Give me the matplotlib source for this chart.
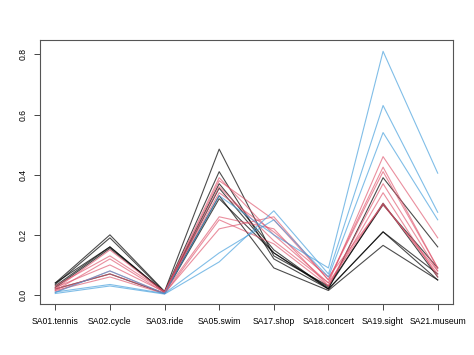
import matplotlib
matplotlib.use("Agg")
import matplotlib.pyplot as plt

plt.rcParams['font.family'] = ['Liberation Sans', 'DejaVu Sans']

categories = ["SA01.tennis", "SA02.cycle", "SA03.ride", "SA05.swim",
              "SA17.shop", "SA18.concert", "SA19.sight", "SA21.museum"]

blue_series = [
    [0.010, 0.035, 0.005, 0.330, 0.200, 0.090, 0.810, 0.405],
    [0.005, 0.030, 0.003, 0.110, 0.280, 0.070, 0.630, 0.275],
    [0.008, 0.080, 0.005, 0.140, 0.250, 0.060, 0.540, 0.250],
]
red_series = [
    [0.020, 0.150, 0.010, 0.390, 0.200, 0.040, 0.460, 0.190],
    [0.015, 0.120, 0.008, 0.380, 0.250, 0.050, 0.425, 0.090],
    [0.025, 0.100, 0.010, 0.260, 0.220, 0.030, 0.370, 0.080],
    [0.010, 0.080, 0.005, 0.360, 0.180, 0.040, 0.305, 0.070],
    [0.020, 0.070, 0.006, 0.220, 0.260, 0.050, 0.410, 0.090],
    [0.015, 0.060, 0.004, 0.250, 0.170, 0.030, 0.340, 0.060],
    [0.030, 0.130, 0.012, 0.340, 0.210, 0.060, 0.300, 0.080],
]
black_series = [
    [0.040, 0.200, 0.012, 0.485, 0.130, 0.030, 0.300, 0.090],
    [0.035, 0.190, 0.010, 0.410, 0.120, 0.020, 0.390, 0.160],
    [0.040, 0.160, 0.010, 0.370, 0.150, 0.020, 0.210, 0.070],
    [0.030, 0.160, 0.008, 0.330, 0.090, 0.015, 0.165, 0.050],
    [0.025, 0.155, 0.010, 0.355, 0.140, 0.025, 0.305, 0.060],
    [0.020, 0.070, 0.005, 0.320, 0.140, 0.020, 0.210, 0.050],
]
yticks = [0.0, 0.2, 0.4, 0.6, 0.8]

fig = plt.figure(figsize=(4.74, 3.55), dpi=100)
ax = fig.add_axes([40/474, 1-304/355, 413/474, 264/355])
x = list(range(1, len(categories)+1))

for s in black_series:
    ax.plot(x, s, color="black", lw=0.8, alpha=0.7)
for s in red_series:
    ax.plot(x, s, color="#DF536B", lw=0.8, alpha=0.65)
for s in blue_series:
    ax.plot(x, s, color="#3D9BDB", lw=0.8, alpha=0.65)

ax.set_xlim(0.72, 8.28)
ax.set_ylim(-0.0299, 0.8477)
ax.set_xticks(x)
ax.set_xticklabels(categories, fontsize=6.2)
ax.set_yticks(yticks)
ax.set_yticklabels(["0.0", "0.2", "0.4", "0.6", "0.8"], fontsize=6.2,
                   rotation=90, va="center")
ax.tick_params(axis="both", length=4.0, width=0.7, color="#444444", pad=5)
ax.tick_params(axis="y", pad=5)
for sp in ax.spines.values():
    sp.set_color("#555555")
    sp.set_linewidth(0.8)

fig.savefig("out.png", dpi=100)
